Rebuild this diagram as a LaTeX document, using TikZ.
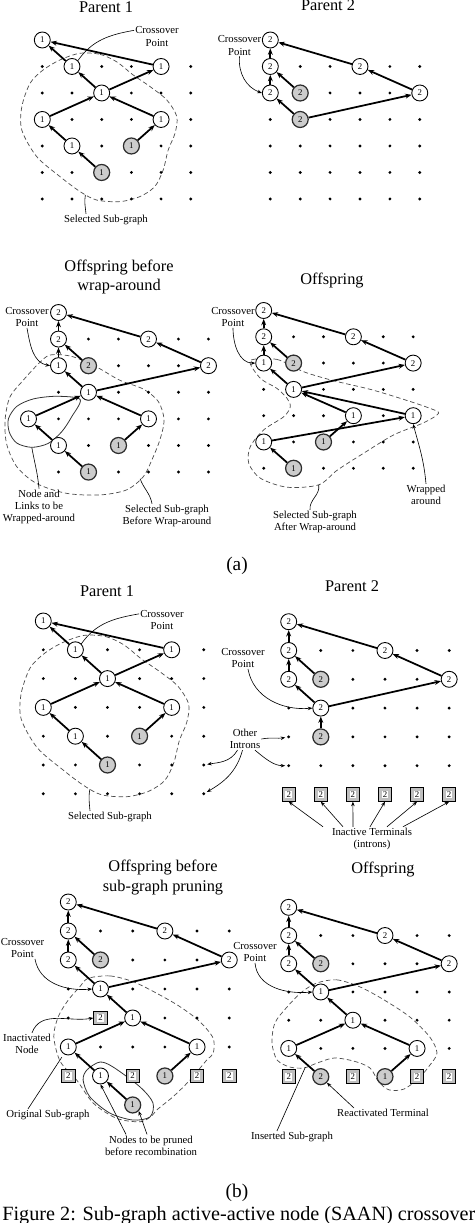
\documentclass[tikz,border=0pt]{standalone}
\usepackage{fontspec}
\setmainfont{Liberation Serif}
\usetikzlibrary{arrows.meta}
\newcommand{\tcaja}[1]{{\setlength{\fboxsep}{0.6pt}\colorbox{white}{#1}}}
\tikzset{
  nodo/.style={circle, draw, line width=0.5pt, fill=white, minimum size=0.32cm, inner sep=0pt, font=\fontsize{5}{5}\selectfont},
  nodog/.style={nodo, fill=gray!40, draw=gray!35!black, line width=0.7pt},
  term/.style={draw, fill=gray!50, line width=0.5pt, minimum size=0.27cm, inner sep=0pt, font=\fontsize{5}{5}\selectfont},
  enlace/.style={-{Stealth[length=3.6pt,width=2.8pt]}, line width=1pt},
  nota/.style={-{Stealth[length=2.6pt,width=2pt]}, line width=0.35pt},
  notal/.style={line width=0.35pt},
  corte/.style={dash pattern=on 2.6pt off 1.6pt, line width=0.4pt, black!70},
  lazo/.style={line width=0.45pt, black!80},
  etq/.style={font=\fontsize{6.1}{7}\selectfont, align=center, inner sep=0.5pt},
  titulo/.style={font=\fontsize{9.3}{11}\selectfont, align=center, inner sep=0pt},
  leyenda/.style={font=\fontsize{11}{13}\selectfont, inner sep=0pt}
}
\begin{document}
\begin{tikzpicture}[x=0.02cm, y=-0.02cm]
\useasboundingbox (0,0) rectangle (474,1223);

% ---------------- (a) Parent 1 ----------------
\node[titulo, anchor=base] (A1ttl) at (106,12.5) {Parent 1};
\begin{scope}[shift={(42.3,40)}, x=0.594cm, y=-0.53cm]
  % Subgrafo
  \draw[corte] plot[smooth cycle] coordinates {(1.27,0.50) (1.94,0.54) (2.50,0.82) (3.06,1.32) (3.63,1.76) (4.19,2.26) (4.53,2.89) (4.47,3.52) (4.24,4.15) (4.07,4.91) (3.79,5.53) (3.29,5.91) (2.62,6.10) (1.83,6.04) (1.27,5.72) (0.60,5.16) (-0.19,4.40) (-0.69,3.40) (-0.69,2.52) (-0.41,1.63) (0.03,1.13) (0.60,0.75)};
  \coordinate (A1sp) at (1.45,5.85);
  % Rejilla
  \foreach \c/\r in {0/1,2/1,3/1,5/1, 0/2,1/2,3/2,4/2,5/2, 1/3,2/3,3/3,5/3, 0/4,2/4,4/4,5/4, 0/5,1/5,3/5,4/5,5/5, 0/6,1/6,2/6,3/6,4/6,5/6}
    \fill (\c,\r) coordinate (A1d\c\r) circle (0.032cm);
  % Nodos
  \node[nodo] (A1c00) at (0,0) {1};
  \node[nodo] (A1c11) at (1,1) {1};
  \node[nodo] (A1c41) at (4,1) {1};
  \node[nodo] (A1c22) at (2,2) {1};
  \node[nodo] (A1c03) at (0,3) {1};
  \node[nodo] (A1c43) at (4,3) {1};
  \node[nodo] (A1c14) at (1,4) {1};
  \node[nodog] (A1c34) at (3,4) {1};
  \node[nodog] (A1c25) at (2,5) {1};
  % Enlaces
  \foreach \s/\t in {11/00, 41/00, 22/11, 22/41, 03/22, 43/22, 14/03, 34/43, 25/14}
    \draw[enlace] (A1c\s) -- (A1c\t);
\end{scope}
\node[etq] (A1cx) at (157,36.5) {Crossover\\Point};
\draw[notal] (A1cx.165) to[out=190,in=55] (A1c11.north east);
\node[etq] (A1sel) at (106,220) {Selected Sub-graph};
\draw[notal] ([xshift=-0.4cm]A1sel.north) to[out=95,in=-100] (A1sp);

% ---------------- (a) Parent 2 ----------------
\node[titulo, anchor=base] (A2ttl) at (328,11) {Parent 2};
\begin{scope}[shift={(270.3,40)}, x=0.598cm, y=-0.53cm]
  % Rejilla
  \foreach \c/\r in {1/1,2/1,4/1,5/1, 2/2,3/2,4/2, 0/3,2/3,3/3,4/3,5/3}
    \fill (\c,\r) coordinate (A2d\c\r) circle (0.032cm);
  \foreach \r in {4,5,6}
    \foreach \c in {0,...,5}
      \fill (\c,\r) coordinate (A2d\c\r) circle (0.032cm);
  % Nodos
  \node[nodo] (A2c00) at (0,0) {2};
  \node[nodo] (A2c01) at (0,1) {2};
  \node[nodo] (A2c31) at (3,1) {2};
  \node[nodo] (A2c02) at (0,2) {2};
  \node[nodog] (A2c12) at (1,2) {2};
  \node[nodo] (A2c52) at (5,2) {2};
  \node[nodog] (A2c13) at (1,3) {2};
  % Enlaces
  \foreach \s/\t in {01/00, 31/00, 02/01, 12/01, 52/31, 13/02, 13/52}
    \draw[enlace] (A2c\s) -- (A2c\t);
\end{scope}
\node[etq] (A2cx) at (239.5,45.5) {Crossover\\Point};
\draw[nota] (A2cx.south) to[out=-95,in=160] (A2c02.west);

% ---------------- (a) Offspring before wrap-around ----------------
\node[titulo] (A3ttl) at (119,277) {Offspring before\\wrap-around};
\begin{scope}[shift={(58.5,312.5)}, x=0.6cm, y=-0.532cm]
  % Subgrafo y lazo
  \draw[corte] plot[smooth cycle] coordinates {(-0.28,1.6) (0.44,1.65) (1.27,2.05) (2.05,2.55) (2.83,2.88) (3.33,3.35) (3.52,4.04) (3.38,4.79) (3.11,5.55) (2.83,6.17) (2.27,6.67) (1.38,6.86) (0.27,6.80) (-0.73,6.43) (-1.39,5.80) (-1.73,4.94) (-1.78,4.04) (-1.62,3.18) (-1.17,2.54) (-0.67,1.93)};
  \draw[lazo] plot[smooth cycle] coordinates {(0.72,3.27) (-0.06,3.15) (-0.84,3.25) (-1.39,3.53) (-1.67,4.0) (-1.64,4.50) (-1.39,4.91) (-0.89,5.07) (-0.34,4.92) (0.11,4.48) (0.44,3.92)};
  \coordinate (A3sp) at (2.72,6.25);
  \coordinate (A3lp) at (-0.89,5.07);
  % Rejilla
  \foreach \c/\r in {1/1,2/1,4/1,5/1, 2/2,3/2,4/2, 0/3,2/3,3/3,4/3,5/3, 0/4,1/4,2/4,4/4,5/4, 1/5,3/5,4/5,5/5, 0/6,2/6,3/6,4/6,5/6}
    \fill (\c,\r) coordinate (A3d\c\r) circle (0.032cm);
  % Nodos
  \node[nodo] (A3c00) at (0,0) {2};
  \node[nodo] (A3c01) at (0,1) {2};
  \node[nodo] (A3c31) at (3,1) {2};
  \node[nodo] (A3c02) at (0,2) {1};
  \node[nodog] (A3c12) at (1,2) {2};
  \node[nodo] (A3c52) at (5,2) {2};
  \node[nodo] (A3c13) at (1,3) {1};
  \node[nodo] (A3cm4) at (-1,4) {1};
  \node[nodo] (A3c34) at (3,4) {1};
  \node[nodo] (A3c05) at (0,5) {1};
  \node[nodog] (A3c25) at (2,5) {1};
  \node[nodog] (A3c16) at (1,6) {1};
  % Enlaces
  \foreach \s/\t in {01/00, 31/00, 02/01, 12/01, 52/31, 13/02, 13/52, m4/13, 34/13, 05/m4, 25/34, 16/05}
    \draw[enlace] (A3c\s) -- (A3c\t);
\end{scope}
\node[etq] (A3cx) at (27,317) {Crossover\\Point};
\draw[nota] (A3cx.south) to[out=-80,in=170] (A3c02.west);
\node[etq] (A3nl) at (39,507) {Node and\\Links to be\\Wrapped-around};
\draw[notal] (A3nl.north) to[out=95,in=-80] (A3lp);
\node[etq] (A3sel) at (167,516) {Selected Sub-graph\\Before Wrap-around};
\draw[notal] ([xshift=-0.3cm]A3sel.north) to[out=100,in=-70] (A3sp);

% ---------------- (a) Offspring ----------------
\node[titulo, anchor=base] (A4ttl) at (332,284) {Offspring};
\begin{scope}[shift={(263.7,310.5)}, x=0.598cm, y=-0.526cm]
  % Subgrafo
  \draw[corte] plot[smooth cycle] coordinates {(-0.45,1.91) (0.44,1.86) (1.34,2.33) (2.34,2.67) (3.57,3.0) (4.68,3.38) (5.56,3.72) (5.85,3.91) (5.35,4.27) (4.35,4.73) (3.34,5.43) (2.45,6.08) (1.84,6.63) (0.78,6.72) (-0.11,6.38) (-0.50,5.81) (-0.45,5.18) (0,4.54) (0.67,4.04) (0.89,3.66) (0.78,3.34) (0.44,2.96) (-0.11,2.58)};
  \coordinate (A4sp) at (1.84,6.63);
  % Rejilla
  \foreach \c/\r in {1/1,2/1,4/1,5/1, 2/2,3/2,4/2, 0/3,2/3,3/3,4/3,5/3, 0/4,1/4,2/4,4/4, 1/5,3/5,4/5,5/5, 0/6,2/6,3/6,4/6,5/6}
    \fill (\c,\r) coordinate (A4d\c\r) circle (0.032cm);
  % Nodos
  \node[nodo] (A4c00) at (0,0) {2};
  \node[nodo] (A4c01) at (0,1) {2};
  \node[nodo] (A4c31) at (3,1) {2};
  \node[nodo] (A4c02) at (0,2) {1};
  \node[nodog] (A4c12) at (1,2) {2};
  \node[nodo] (A4c52) at (5,2) {2};
  \node[nodo] (A4c13) at (1,3) {1};
  \node[nodo] (A4c34) at (3,4) {1};
  \node[nodo] (A4c54) at (5,4) {1};
  \node[nodo] (A4c05) at (0,5) {1};
  \node[nodog] (A4c25) at (2,5) {1};
  \node[nodog] (A4c16) at (1,6) {1};
  % Enlaces
  \foreach \s/\t in {01/00, 31/00, 02/01, 12/01, 52/31, 13/02, 13/52, 34/13, 54/13, 05/54, 25/34, 16/05}
    \draw[enlace] (A4c\s) -- (A4c\t);
\end{scope}
\node[etq] (A4cx) at (233,317) {Crossover\\Point};
\draw[nota] (A4cx.south) to[out=-90,in=180] (A4c02.west);
\node[etq] (A4sel) at (315,522) {Selected Sub-graph\\After Wrap-around};
\draw[notal] ([xshift=-0.1cm]A4sel.north) to[out=95,in=-80] (A4sp);
\node[etq] (A4wr) at (426,495) {Wrapped\\around};
\draw[nota] (A4wr.north) to[out=95,in=-75] (A4c54.south);

\node[leyenda] (capa) at (237,565.5) {(a)};

% ---------------- (b) Parent 1 ----------------
\node[titulo, anchor=base] (B1ttl) at (107,596) {Parent 1};
\begin{scope}[shift={(43.3,621)}, x=0.642cm, y=-0.576cm]
  % Subgrafo
  \draw[corte] plot[smooth cycle] coordinates {(1.27,0.50) (1.94,0.54) (2.50,0.82) (3.06,1.32) (3.63,1.76) (4.19,2.26) (4.53,2.89) (4.47,3.52) (4.24,4.15) (4.07,4.91) (3.79,5.53) (3.29,5.91) (2.62,6.10) (1.83,6.04) (1.27,5.72) (0.60,5.16) (-0.19,4.40) (-0.69,3.40) (-0.69,2.52) (-0.41,1.63) (0.03,1.13) (0.60,0.75)};
  \coordinate (B1sp) at (1.45,5.85);
  % Rejilla
  \foreach \c/\r in {0/1,2/1,3/1,5/1, 0/2,1/2,3/2,4/2,5/2, 1/3,2/3,3/3,5/3, 0/4,2/4,4/4,5/4, 0/5,1/5,3/5,4/5,5/5, 0/6,1/6,2/6,3/6,4/6,5/6}
    \fill (\c,\r) coordinate (B1d\c\r) circle (0.032cm);
  % Nodos
  \node[nodo] (B1c00) at (0,0) {1};
  \node[nodo] (B1c11) at (1,1) {1};
  \node[nodo] (B1c41) at (4,1) {1};
  \node[nodo] (B1c22) at (2,2) {1};
  \node[nodo] (B1c03) at (0,3) {1};
  \node[nodo] (B1c43) at (4,3) {1};
  \node[nodo] (B1c14) at (1,4) {1};
  \node[nodog] (B1c34) at (3,4) {1};
  \node[nodog] (B1c25) at (2,5) {1};
  % Enlaces
  \foreach \s/\t in {11/00, 41/00, 22/11, 22/41, 03/22, 43/22, 14/03, 34/43, 25/14}
    \draw[enlace] (B1c\s) -- (B1c\t);
\end{scope}
\node[etq] (B1cx) at (162,620) {Crossover\\Point};
\draw[notal] (B1cx.165) to[out=190,in=55] (B1c11.north east);
\node[etq] (B1sel) at (110,817) {Selected Sub-graph};
\draw[notal] ([xshift=-0.4cm]B1sel.north) to[out=95,in=-100] (B1sp);

% ---------------- (b) Parent 2 ----------------
\node[titulo, anchor=base] (B2ttl) at (352,591) {Parent 2};
\begin{scope}[shift={(288.7,621.7)}, x=0.642cm, y=-0.576cm]
  % Rejilla
  \foreach \c/\r in {1/1,2/1,4/1,5/1, 2/2,3/2,4/2, 0/3,2/3,3/3,4/3,5/3, 0/4,2/4,3/4,4/4,5/4}
    \fill (\c,\r) coordinate (B2d\c\r) circle (0.032cm);
  \foreach \c in {0,...,5}
    \fill (\c,5) coordinate (B2d\c5) circle (0.032cm);
  % Nodos
  \node[nodo] (B2c00) at (0,0) {2};
  \node[nodo] (B2c01) at (0,1) {2};
  \node[nodo] (B2c31) at (3,1) {2};
  \node[nodo] (B2c02) at (0,2) {2};
  \node[nodog] (B2c12) at (1,2) {2};
  \node[nodo] (B2c52) at (5,2) {2};
  \node[nodo] (B2c13) at (1,3) {2};
  \node[nodog] (B2c14) at (1,4) {2};
  \foreach \c in {0,...,5}
    \node[term] (B2c\c6) at (\c,6) {\tcaja{2}};
  % Enlaces
  \foreach \s/\t in {01/00, 31/00, 02/01, 12/01, 52/31, 13/02, 13/52, 14/13}
    \draw[enlace] (B2c\s) -- (B2c\t);
\end{scope}
\node[etq] (B2cx) at (243,658) {Crossover\\Point};
\draw[nota] ([xshift=0.1cm]B2cx.south) to[out=-80,in=185] (B2c13.west);
\node[etq] (B2oi) at (245,739) {Other\\Introns};
\draw[nota, shorten >=2pt] (B2oi.east) to[out=10,in=190] (B2d04);
\draw[nota, shorten >=2pt] ([xshift=0.2cm]B2oi.south) to[out=-40,in=180] (B2d05);
\draw[nota, shorten >=2pt] ([xshift=-0.15cm]B2oi.south) to[out=-120,in=10] (B1d55);
\draw[nota, shorten >=2pt] ([xshift=-0.05cm]B2oi.south) to[out=-105,in=30] (B1d56);
\node[etq] (B2it) at (372,839) {Inactive Terminals\\(introns)};
\foreach \c/\s in {0/-0.98, 1/-0.58, 2/-0.38, 3/-0.04, 4/0.3, 5/0.62}
  \draw[nota] ([xshift=\s cm]B2it.north) -- (B2c\c6.south);

% ---------------- (b) Offspring before sub-graph pruning ----------------
\node[titulo] (B3ttl) at (163,877.5) {Offspring before\\sub-graph pruning};
\begin{scope}[shift={(68.3,902)}, x=0.644cm, y=-0.58cm]
  % Subgrafo y lazo
  \draw[corte] plot[smooth cycle] coordinates {(0.62,2.63) (1.30,2.55) (2.02,2.75) (2.75,3.15) (3.47,3.61) (4.09,4.13) (4.50,4.70) (4.50,5.22) (4.30,5.45) (3.78,6.14) (3.26,6.71) (2.75,7.17) (2.59,7.38) (2.23,7.58) (1.50,7.46) (0.78,6.94) (0.26,6.14) (-0.25,5.5) (-0.45,4.64) (-0.31,3.95) (0.0,3.38) (0.36,2.92)};
  \draw[lazo] plot[smooth cycle] coordinates {(0.58,5.79) (0.98,5.52) (1.39,5.69) (2.23,6.38) (2.63,6.93) (2.54,7.41) (2.01,7.52) (1.29,7.28) (0.67,6.72) (0.46,6.14)};
  \coordinate (B3sp) at (-0.2,5.35);
  % Rejilla
  \foreach \c/\r in {1/1,2/1,4/1,5/1, 2/2,3/2,4/2, 0/3,2/3,3/3,4/3,5/3, 0/4,3/4,4/4,5/4, 1/5,2/5,3/5,5/5}
    \fill (\c,\r) coordinate (B3d\c\r) circle (0.032cm);
  % Nodos
  \node[nodo] (B3c00) at (0,0) {2};
  \node[nodo] (B3c01) at (0,1) {2};
  \node[nodo] (B3c31) at (3,1) {2};
  \node[nodo] (B3c02) at (0,2) {2};
  \node[nodog] (B3c12) at (1,2) {2};
  \node[nodo] (B3c52) at (5,2) {2};
  \node[nodo] (B3c13) at (1,3) {1};
  \node[term] (B3c14) at (1,4) {\tcaja{2}};
  \node[nodo] (B3c24) at (2,4) {1};
  \node[nodo] (B3c05) at (0,5) {1};
  \node[nodo] (B3c45) at (4,5) {1};
  \node[nodo] (B3c16) at (1,6) {1};
  \node[nodog] (B3c36) at (3,6) {1};
  \foreach \c in {0,2,4,5}
    \node[term] (B3c\c6) at (\c,6) {\tcaja{2}};
  \node[nodog] (B3c27) at (2,7) {1};
  % Enlaces
  \foreach \s/\t in {01/00, 31/00, 02/01, 12/01, 52/31, 13/02, 13/52, 24/13, 05/24, 45/24, 16/05, 36/45, 27/16}
    \draw[enlace] (B3c\s) -- (B3c\t);
\end{scope}
\node[etq] (B3cx) at (22.5,948) {Crossover\\Point};
\draw[nota] ([xshift=0.25cm]B3cx.south) to[out=-80,in=185] (B3c13.west);
\node[etq] (B3in) at (27,1044) {Inactivated\\Node};
\draw[nota] ([xshift=0.1cm]B3in.north) to[out=70,in=190] (B3c14.west);
\node[etq] (B3os) at (48,1115) {Original Sub-graph};
\draw[notal] ([xshift=-0.4cm]B3os.north) -- (B3sp);
\node[etq] (B3np) at (151,1145.5) {Nodes to be pruned\\before recombination};
\draw[nota] ([xshift=-0.5cm]B3np.north) -- (B3c16.south);
\draw[nota] ([xshift=-0.08cm]B3np.north) -- (B3c27.south east);

% ---------------- (b) Offspring ----------------
\node[titulo, anchor=base] (B4ttl) at (383,873) {Offspring};
\begin{scope}[shift={(288.7,907.3)}, x=0.642cm, y=-0.5646cm]
  % Subgrafo
  \draw[corte] plot[smooth cycle] coordinates {(0.88,2.68) (1.50,2.57) (2.22,2.82) (2.97,3.28) (3.78,3.89) (4.40,4.60) (4.62,5.16) (4.40,5.59) (4.06,6.05) (3.59,6.44) (3.13,6.47) (2.81,6.19) (2.53,5.69) (2.03,5.45) (1.41,5.34) (0.88,5.52) (0.48,5.69) (0.04,5.66) (-0.36,5.41) (-0.52,4.81) (-0.43,4.10) (-0.05,3.53) (0.41,3.00)};
  \coordinate (B4sp) at (0.52,5.66);
  % Rejilla
  \foreach \c/\r in {1/1,2/1,4/1,5/1, 2/2,3/2,4/2, 0/3,2/3,3/3,4/3,5/3, 0/4,1/4,3/4,4/4,5/4, 1/5,2/5,3/5,5/5}
    \fill (\c,\r) coordinate (B4d\c\r) circle (0.032cm);
  % Nodos
  \node[nodo] (B4c00) at (0,0) {2};
  \node[nodo] (B4c01) at (0,1) {2};
  \node[nodo] (B4c31) at (3,1) {2};
  \node[nodo] (B4c02) at (0,2) {2};
  \node[nodog] (B4c12) at (1,2) {2};
  \node[nodo] (B4c52) at (5,2) {2};
  \node[nodo] (B4c13) at (1,3) {1};
  \node[nodo] (B4c24) at (2,4) {1};
  \node[nodo] (B4c05) at (0,5) {1};
  \node[nodo] (B4c45) at (4,5) {1};
  \node[nodog] (B4c16) at (1,6) {2};
  \node[nodog] (B4c36) at (3,6) {1};
  \foreach \c in {0,2,4,5}
    \node[term] (B4c\c6) at (\c,6) {\tcaja{2}};
  % Enlaces
  \foreach \s/\t in {01/00, 31/00, 02/01, 12/01, 52/31, 13/02, 13/52, 24/13, 05/24, 45/24, 16/05, 36/45}
    \draw[enlace] (B4c\s) -- (B4c\t);
\end{scope}
\node[etq] (B4cx) at (255,952) {Crossover\\Point};
\draw[nota] (B4cx.south) to[out=-85,in=185] (B4c13.west);
\node[etq] (B4rt) at (383,1113) {Reactivated Terminal};
\draw[nota] ([xshift=-0.58cm]B4rt.north) -- (B4c16.south east);
\node[etq] (B4is) at (292,1137) {Inserted Sub-graph};
\draw[notal] ([xshift=-0.3cm]B4is.north) -- (B4sp);

\node[leyenda] (capb) at (237,1193) {(b)};
\node[leyenda, font=\fontsize{11.5}{13}\selectfont, anchor=base west] (fig) at (2,1220) {Figure 2: Sub-graph active-active node (SAAN) crossover};
\end{tikzpicture}
\end{document}
